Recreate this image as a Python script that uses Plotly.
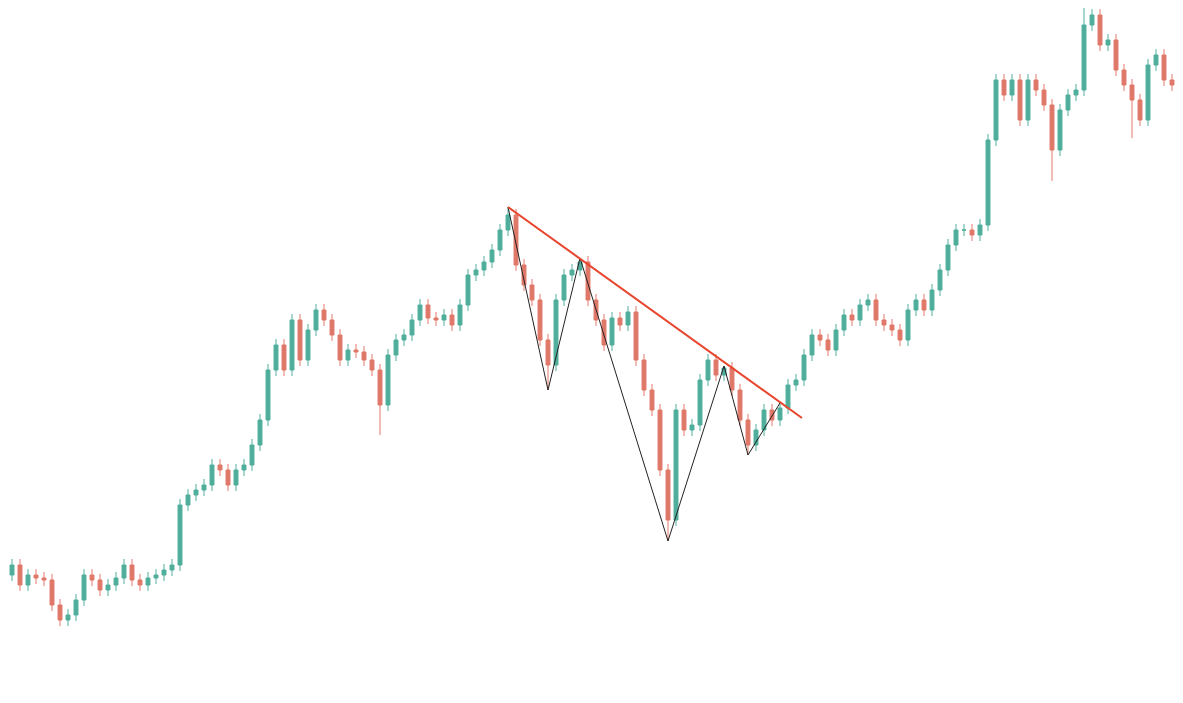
import plotly.graph_objects as go

closes = [128,138,118,128,125,123,98,83,88,103,128,123,113,118,125,138,123,118,125,128,
          133,138,198,208,213,218,238,233,218,233,238,258,283,333,358,333,383,343,373,393,
          383,368,343,353,351,343,333,298,348,363,368,383,398,385,383,388,378,398,428,433,
          441,453,473,488,438,418,403,363,338,403,428,433,441,403,383,358,385,378,391,343,
          313,293,233,183,293,273,278,323,343,328,335,313,283,258,273,293,283,295,318,323,
          348,368,363,353,373,388,383,398,403,383,378,373,363,393,403,393,413,433,458,473,
          473,468,478,563,623,608,623,583,623,613,598,553,593,608,613,678,688,658,663,633,
          618,603,583,638,648,623,618,628]
first_open = 125
wick = 6
high_override = {63: 496, 72: 445, 90: 337, 135: 695}
low_override = {47: 268, 68: 313, 83: 162, 93: 248, 131: 522, 141: 565}

zig_x = [63, 68, 72, 83, 90, 93, 97]
zig_y = [496, 313, 445, 162, 337, 248, 300]
trend_x = [63, 99.75]
trend_y = [496, 285]

n = len(closes)
idx = list(range(n))
opens = [first_open] + closes[:-1]
highs = [high_override.get(i, max(opens[i], closes[i]) + wick) for i in idx]
lows = [low_override.get(i, min(opens[i], closes[i]) - wick) for i in idx]

fig = go.Figure()
fig.add_trace(go.Candlestick(x=idx, open=opens, high=highs, low=lows, close=closes,
    increasing=dict(line=dict(color="#4fae9b", width=1), fillcolor="#4fae9b"),
    decreasing=dict(line=dict(color="#e0786a", width=1), fillcolor="#e0786a"),
    whiskerwidth=0, showlegend=False))
fig.add_trace(go.Scatter(x=zig_x, y=zig_y, mode="lines", line=dict(color="#222", width=1), showlegend=False))
fig.add_trace(go.Scatter(x=trend_x, y=trend_y, mode="lines", line=dict(color="#e8452c", width=2), showlegend=False))
fig.update_layout(width=1175, height=695, margin=dict(l=0, r=0, t=0, b=0),
    paper_bgcolor="white", plot_bgcolor="white",
    xaxis=dict(range=[0.5, 147.375], visible=False, rangeslider=dict(visible=False)),
    yaxis=dict(range=[0, 695], visible=False))
fig.write_html("out.html")
